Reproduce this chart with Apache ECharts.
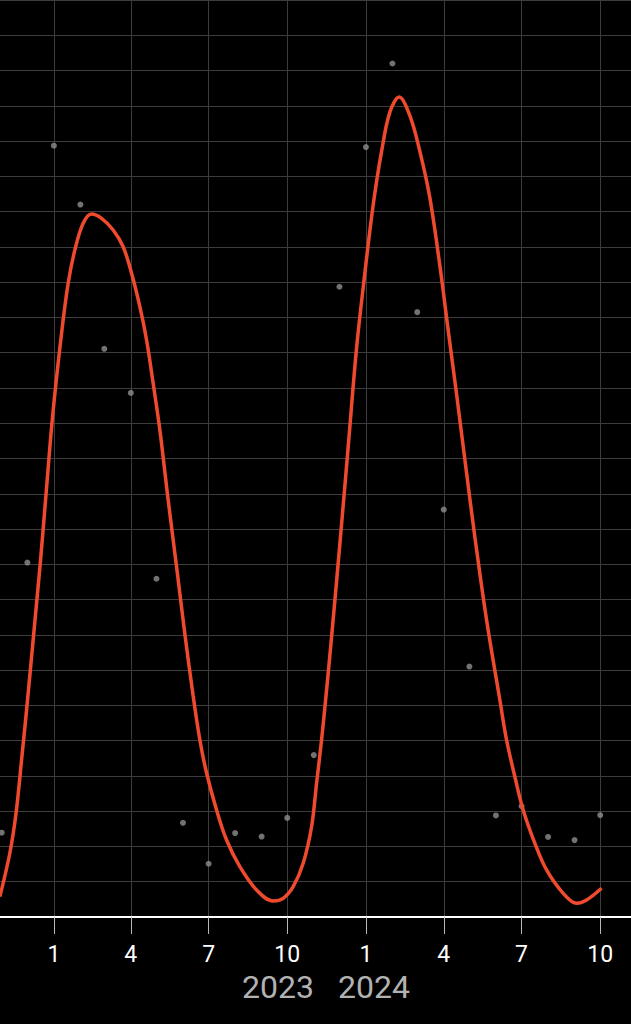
<!DOCTYPE html>
<html><head><meta charset="utf-8">
<script src="https://cdn.jsdelivr.net/npm/echarts@6/dist/echarts.min.js"></script>
<style>html,body{margin:0;padding:0;background:#000;}#c{width:631px;height:1024px;}</style>
</head><body><div id="c"></div>
<script>
// Monthly observations (grey dots)
const pointDates = ['2022-11-01','2022-12-01','2023-01-01','2023-02-01','2023-03-01','2023-04-01','2023-05-01','2023-06-01','2023-07-01','2023-08-01','2023-09-01','2023-10-01','2023-11-01','2023-12-01','2024-01-01','2024-02-01','2024-03-01','2024-04-01','2024-05-01','2024-06-01','2024-07-01','2024-08-01','2024-09-01','2024-10-01'];
const pointValues = [2.39,10.05,21.87,20.20,16.11,14.86,9.59,2.67,1.51,2.38,2.28,2.81,4.59,17.87,21.83,24.20,17.15,11.55,7.10,2.88,3.14,2.27,2.18,2.89];

// Smoothed trend (red curve).
// x = days since curveBase (fractional), y = value
const curveBase = '2023-01-01';
const curveDays = [-63.16,-51.46,-44.21,-37.78,-31.93,-26.08,-19.88,-15.56,-9.71,-1.52,9.01,16.73,24.56,34.27,44.09,55.79,69.36,81.05,90.88,100.58,108.42,116.14,123.98,133.68,143.51,153.22,162.92,170.76,178.60,190.29,201.99,217.54,237.08,256.49,268.19,279.88,291.58,301.40,307.25,313.10,318.95,324.80,334.50,344.21,354.04,363.74,373.45,383.27,392.98,403.86,416.37,428.07,439.77,451.46,461.17,471.00,482.69,492.40,506.08,521.64,529.47,539.18,548.89,562.57,576.26,595.67,611.35,623.04,640.58];
const curveValues = [0.576,1.815,2.949,4.451,5.869,7.372,8.988,10.122,11.823,14.185,16.550,17.967,18.914,19.668,19.932,19.810,19.478,19.005,18.251,17.304,16.360,15.132,13.808,11.823,9.932,8.024,6.266,5.018,4.083,3.034,2.183,1.426,0.766,0.454,0.530,0.859,1.523,2.560,3.791,5.018,6.436,7.939,10.576,13.326,16.133,18.259,20.187,21.707,22.821,23.247,22.719,21.707,20.389,18.466,16.643,14.820,12.591,10.771,8.420,6.152,5.018,3.977,3.034,2.090,1.333,0.672,0.388,0.482,0.814];

// Axis ticks (quarterly) and year labels
const tickDates = ['2023-01-01','2023-04-01','2023-07-01','2023-10-01','2024-01-01','2024-04-01','2024-07-01','2024-10-01'];
const xRange = ['2022-10-30','2024-11-06'];
const yearLabels = ['2023','2024'];

const DAY = 86400000;
const t = s => { const p = s.split('-').map(Number); return new Date(p[0], p[1]-1, p[2]).getTime(); };
const ticks = tickDates.map(t);
const base = t(curveBase);

const chart = echarts.init(document.getElementById('c'), null, {renderer:'svg'});
chart.setOption({
  backgroundColor:'#000',
  animation:false,
  grid:{left:0,right:0,top:0,bottom:107,containLabel:false,outerBoundsMode:'none'},
  xAxis:{
    type:'value', min:t(xRange[0]), max:t(xRange[1]), scale:true,
    axisLine:{show:true,onZero:false,lineStyle:{color:'#ffffff',width:2}},
    axisTick:{show:true,customValues:ticks,length:17,lineStyle:{color:'#b8b8b8',width:1}},
    axisLabel:{show:true,customValues:ticks,color:'#ffffff',fontSize:23,fontFamily:'Roboto',margin:26,
      formatter:v=>String(new Date(v).getMonth()+1)},
    splitLine:{show:true,lineStyle:{color:'#3d3d3d',width:1}}
  },
  yAxis:{
    type:'value',min:0,max:26,interval:1,
    axisLine:{show:false},axisTick:{show:false},axisLabel:{show:false},
    splitLine:{show:true,lineStyle:{color:'#3d3d3d',width:1}}
  },
  graphic:[
    {type:'text',x:278,y:987,style:{text:yearLabels[0],fill:'#b2b2b2',fontSize:32,fontFamily:'Roboto',align:'center',verticalAlign:'middle'}},
    {type:'text',x:374,y:987,style:{text:yearLabels[1],fill:'#b2b2b2',fontSize:32,fontFamily:'Roboto',align:'center',verticalAlign:'middle'}}
  ],
  series:[
    {type:'scatter',data:pointDates.map((d,i)=>[t(d),pointValues[i]]),symbolSize:6,
      itemStyle:{color:'#8e8e8e'},z:2},
    {type:'line',data:curveDays.map((d,i)=>[base+d*DAY,curveValues[i]]),smooth:0.35,showSymbol:false,
      lineStyle:{color:'#f04a2e',width:3.5},z:3}
  ]
});
</script></body></html>
